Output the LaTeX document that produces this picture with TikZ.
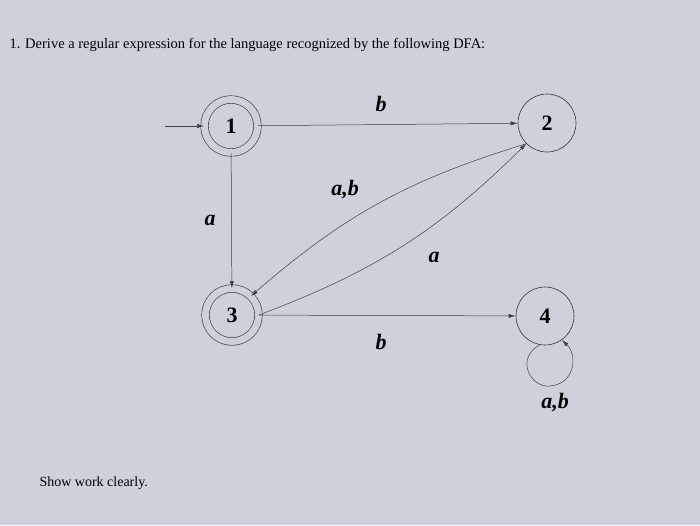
\documentclass[tikz,border=0pt]{standalone}
\usepackage{fontspec}
\setmainfont{Liberation Serif}
\usetikzlibrary{arrows.meta}
\definecolor{paper}{RGB}{204,209,220}
\begin{document}
\begin{tikzpicture}[x=1pt,y=-1pt,
  st/.style={circle,draw=black!80,line width=0.6pt,minimum size=58pt,inner sep=0pt,font=\fontsize{22}{22}\selectfont\bfseries},
  acc/.style={st,double=paper,double distance=7pt,minimum size=53pt},
  edge/.style={draw=black!75,line width=0.5pt,-{Latex[length=7pt,width=4pt]}},
  lab/.style={font=\fontsize{22}{22}\selectfont\itshape\bfseries}]
\fill[paper] (0,0) rectangle (700,525);
\useasboundingbox (0,0) rectangle (700,525);
\node[anchor=west,font=\fontsize{14.5}{14.5}\selectfont] (title) at (6,45) {1. Derive a regular expression for the language recognized by the following DFA:};
\node[acc] (n1) at (231,126) {1};
\node[st] (n2) at (547,123) {2};
\node[acc] (n3) at (232,315) {3};
\node[st] (n4) at (545,316) {4};
\coordinate (s) at (165,126);
\draw[edge] (s) -- (n1);
\draw[edge] (n1) -- (n2);
\draw[edge] (n1) -- (n3);
\draw[edge] (n3) -- (n4);
\draw[edge] (n2.south west) to[bend right=12] (n3.north east);
\draw[edge] (n3.east) to[bend right=12] (n2.south west);
\draw[edge] (n4.-100) .. controls (515,358) and (530,388) .. (550,386) .. controls (575,384) and (578,355) .. (n4.-55);
\node[lab] (lb1) at (381,104) {b};
\node[lab] (lab2) at (345,190) {a,b};
\node[lab] (la3) at (210,220) {a};
\node[lab] (la4) at (434,257) {a};
\node[lab] (lb5) at (381,342) {b};
\node[lab] (lab6) at (555,403) {a,b};
\node[anchor=west,font=\fontsize{14}{14}\selectfont] (show) at (36,483) {Show work clearly.};
\end{tikzpicture}
\end{document}
